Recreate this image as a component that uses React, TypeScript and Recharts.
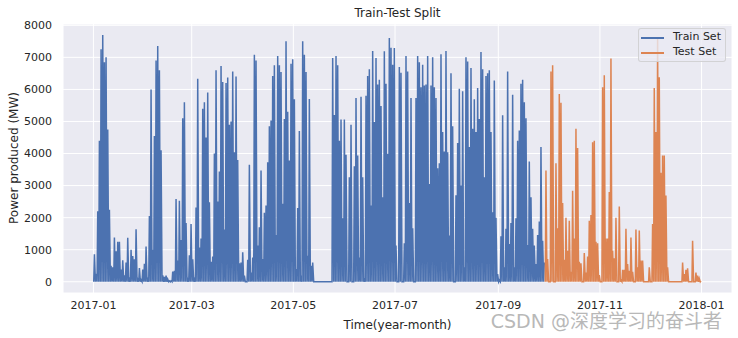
import { CartesianGrid, Line, LineChart, XAxis, YAxis } from "recharts";

// day offsets from 2017-01-01 for the month ticks
const monthTicks = [0, 59, 120, 181, 243, 304, 365];
const monthLabels = ["2017-01", "2017-03", "2017-05", "2017-07", "2017-09", "2017-11", "2018-01"];
const powerTicks = [0, 1000, 2000, 3000, 4000, 5000, 6000, 7000, 8000];

// daily peak output (MW); train runs from 2017-01-01
const trainPeaks = [
  860, 250, 2200, 4400, 7250, 7700, 6850, 7000, 4750, 2250,
  500, 450, 1380, 950, 1250, 1250, 380, 670, 200, 600,
  1370, 140, 1000, 800, 700, 1640, 80, 430, 60, 380,
  560, 1100, 80, 2050, 6000, 1000, 4550, 6900, 7350, 6600,
  4100, 200, 150, 190, 80, 30, 30, 320, 340, 2580,
  660, 2530, 1300, 5100, 5600, 1830, 80, 830, 1800, 700,
  80, 2320, 6330, 1070, 1350, 5400, 5600, 4500, 5900, 2480,
  625, 790, 4000, 6600, 2500, 3440, 6730, 6230, 1630, 6200,
  6370, 4900, 5000, 6560, 4040, 6400, 3800, 580, 600, 920,
  190, 0, 690, 3650, 290, 760, 7080, 6900, 1130, 1700,
  3470, 710, 2150, 2380, 3730, 4850, 5030, 6420, 6750, 1460,
  7040, 6750, 6540, 2430, 5080, 7500, 5300, 3780, 6800, 6940,
  5690, 400, 2300, 4700, 190, 7500, 7080, 6540, 810, 5700,
  500, 600, 0, 0, 0, 0, 0, 0, 0, 0,
  0, 0, 0, 6980, 5200, 7040, 6750, 4400, 5060, 1980,
  5060, 3960, 0, 3260, 4900, 0, 3600, 5730, 3940, 760,
  5770, 3260, 80, 5800, 6420, 6630, 2380, 7200, 4980, 6980,
  6150, 6300, 5480, 2640, 7190, 6180, 3990, 7600, 7300, 6770,
  7290, 1130, 0, 6700, 6520, 0, 1200, 7040, 6560, 2460,
  5730, 1670, 0, 5730, 7040, 6850, 6070, 6770, 6120, 6150,
  7040, 3050, 6120, 7000, 6070, 5730, 3540, 3700, 7100, 4670,
  4060, 7200, 4040, 1440, 6500, 4850, 0, 2700, 4330, 6020,
  3000, 5940, 450, 7000, 6870, 4200, 6670, 4770, 5690, 4670,
  6040, 5080, 7170, 6630, 3260, 6420, 6500, 6600, 4670, 2170,
  6280, 2000, 240, 50, 1420, 5190, 450, 1650, 6560, 1180,
  1830, 5830, 450, 1980, 4400, 4720, 6180, 6300, 5600, 5100,
  1150, 3750, 2640, 1650, 1130, 550, 1460, 1880, 4200, 1280,
  600,
];

// test set picks up the day after the train set ends
const testPeaks = [
  3470, 710, 0, 6560, 6750, 0, 3700, 1670, 5860, 5580,
  2460, 690, 2000, 970, 1900, 310, 2840, 1350, 4770, 4170,
  625, 580, 0, 900, 290, 790, 1900, 2080, 4350, 4400,
  1250, 1200, 210, 0, 6070, 6440, 1350, 1350, 2800, 6960,
  970, 730, 2000, 0, 2350, 50, 375, 375, 1650, 550,
  340, 1380, 310, 0, 1630, 450, 1600, 660, 660, 0,
  0, 0, 450, 0, 1800, 6040, 4670, 7580, 6380, 3400,
  3940, 3940, 2690, 450, 0, 0, 0, 0, 0, 0,
  0, 0, 600, 240, 375, 420, 0, 0, 1280, 0,
  290, 190, 100, 30,
];

const TRAIN_COLOR = "#4C72B0";
const TEST_COLOR = "#DD8452";
const TEXT = "#262626";
const FONT = "'DejaVu Sans', sans-serif";

type Row = { t: number; train?: number; test?: number };

// each day drops back to zero before its peak
function buildRows(): Row[] {
  const rows: Row[] = [];
  trainPeaks.forEach((v, i) => {
    rows.push({ t: i + 0.2, train: 0 }, { t: i + 0.6, train: v });
  });
  const start = trainPeaks.length;
  testPeaks.forEach((v, i) => {
    rows.push({ t: start + i + 0.2, test: 0 }, { t: start + i + 0.6, test: v });
  });
  return rows;
}

const rows = buildRows();

function formatMonth(v: number): string {
  const i = monthTicks.indexOf(v);
  return i >= 0 ? monthLabels[i] : "";
}

export default function App() {
  return (
    <div style={{ position: "absolute", left: 0, top: 0, width: 738, height: 338, background: "#fff" }}>
      <LineChart width={738} height={338} data={rows} margin={{ top: 24, right: 6, bottom: 0, left: 8 }}>
        <CartesianGrid fill="#EAEAF2" stroke="#ffffff" strokeWidth={1} />
        <XAxis
          dataKey="t"
          type="number"
          domain={[-18.25, 383.25]}
          ticks={monthTicks}
          interval={0}
          tickFormatter={formatMonth}
          allowDataOverflow
          axisLine={false}
          tickLine={false}
          tickSize={0}
          tickMargin={8}
          height={45}
          tick={{ fill: TEXT, fontSize: 11, fontFamily: FONT }}
          label={{ value: "Time(year-month)", position: "insideBottom", offset: 9, fill: TEXT, fontSize: 12, fontFamily: FONT }}
        />
        <YAxis
          type="number"
          domain={[-350, 8040]}
          ticks={powerTicks}
          interval={0}
          allowDataOverflow
          width={55}
          axisLine={false}
          tickLine={false}
          tickSize={6}
          tickMargin={5}
          tick={{ fill: TEXT, fontSize: 11, fontFamily: FONT }}
        />
        <Line type="linear" dataKey="train" name="Train Set" stroke={TRAIN_COLOR} strokeWidth={1.5} dot={false} isAnimationActive={false} />
        <Line type="linear" dataKey="test" name="Test Set" stroke={TEST_COLOR} strokeWidth={1.5} dot={false} isAnimationActive={false} />
      </LineChart>

      <svg width={738} height={338} style={{ position: "absolute", left: 0, top: 0, pointerEvents: "none" }}>
        <text x={397.5} y={13} textAnchor="middle" dominantBaseline="central" fill={TEXT} fontSize={12} fontFamily={FONT}>
          Train-Test Split
        </text>
        <text
          x={14}
          y={158}
          transform="rotate(-90, 14, 158)"
          textAnchor="middle"
          dominantBaseline="central"
          fill={TEXT}
          fontSize={12}
          fontFamily={FONT}
        >
          Power produced (MW)
        </text>
        <text
          x={722}
          y={321}
          textAnchor="end"
          dominantBaseline="central"
          fill="#b8b8b8"
          fontSize={19}
          fontFamily="'DejaVu Sans', 'Noto Sans CJK SC', sans-serif"
        >
          CSDN @深度学习的奋斗者
        </text>
      </svg>

      <div
        style={{
          position: "absolute",
          left: 638,
          top: 28,
          width: 88,
          height: 34,
          boxSizing: "border-box",
          background: "rgba(234,234,242,0.8)",
          border: "1px solid rgba(204,204,204,0.8)",
          borderRadius: 3,
          fontFamily: FONT,
          fontSize: 11,
          color: TEXT,
        }}
      >
        {[
          { label: "Train Set", color: TRAIN_COLOR, y: 8 },
          { label: "Test Set", color: TEST_COLOR, y: 23 },
        ].map((item) => (
          <div key={item.label}>
            <div style={{ position: "absolute", left: 2, top: item.y, width: 23, height: 1.5, background: item.color }} />
            <div style={{ position: "absolute", left: 34, top: item.y - 7, lineHeight: "14px", whiteSpace: "nowrap" }}>
              {item.label}
            </div>
          </div>
        ))}
      </div>
    </div>
  );
}
